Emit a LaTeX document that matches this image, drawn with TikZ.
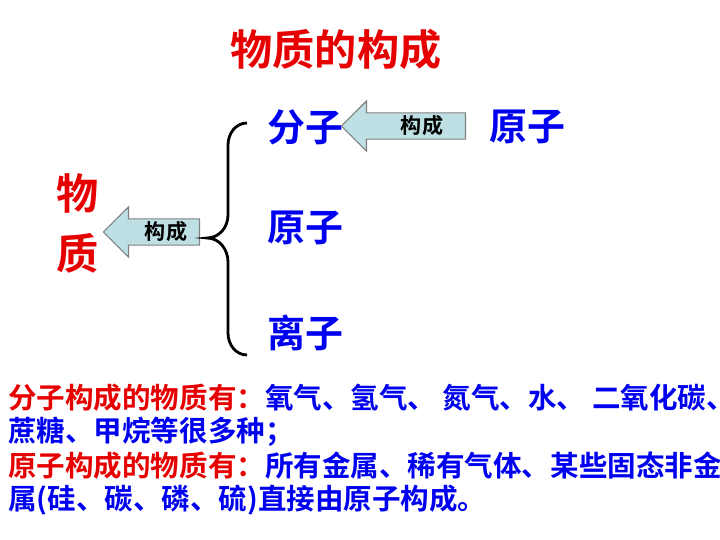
\documentclass[tikz,border=0pt]{standalone}
\usepackage{fontspec}
\newfontfamily\cjk{Noto Sans CJK SC}[BoldFont={Noto Sans CJK SC Bold}]
\usetikzlibrary{shapes.arrows}
\definecolor{tred}{RGB}{230,0,0}
\definecolor{tblue}{RGB}{0,0,240}
\definecolor{arrfill}{RGB}{190,224,228}
\tikzset{
  big/.style={font=\cjk\bfseries\fontsize{27}{30}\selectfont, text=tblue, inner sep=0pt},
  line/.style={anchor=west, inner sep=0pt, font=\cjk\bfseries\fontsize{20.3}{22}\selectfont},
  arr/.style={single arrow, shape border rotate=180, draw=gray, fill=arrfill, thick,
    single arrow head extend=3mm, minimum height=#1, inner sep=0.6mm,
    font=\cjk\bfseries\fontsize{15}{16}\selectfont, text=black},
}
\begin{document}
\begin{tikzpicture}[x=0.25mm,y=-0.25mm]
  \useasboundingbox (0,0) rectangle (720,540);
  \node[font=\cjk\bfseries\fontsize{30}{32}\selectfont, text=tred] (title) at (336,50) {物质的构成};
  \node[big, text=tred, font=\cjk\bfseries\fontsize{30}{32}\selectfont] (wu) at (78,193) {物};
  \node[big, text=tred, font=\cjk\bfseries\fontsize{30}{32}\selectfont] (zhi) at (78,253) {质};
  \node[big] (fenzi) at (305,127) {分子};
  \node[big] (yuanzi) at (305,228) {原子};
  \node[big] (lizi) at (305,333) {离子};
  \node[big] (yuanzi2) at (527,127) {原子};
  \node[arr=31mm] (arrtop) at (410,126) {\hspace{6mm}构成};
  \node[arr=24mm] (arrleft) at (158,232) {\hspace{4mm}构成};
  % brace
  \draw[line width=2pt] (247,123) to[out=180,in=90] (228,145) -- (228,215)
     to[out=-90,in=0] (207,238) to[out=0,in=90] (228,262) -- (228,333)
     to[out=-90,in=180] (247,355);
  \node[line] (l1) at (8,398) {\textcolor{tred}{分子构成的物质有：}\textcolor{tblue}{氧气、氢气、 氮气、水、 二氧化碳、}};
  \node[line, text=tblue] (l2) at (8,432) {蔗糖、甲烷等很多种；};
  \node[line] (l3) at (8,466) {\textcolor{tred}{原子构成的物质有：}\textcolor{tblue}{所有金属、稀有气体、某些固态非金}};
  \node[line, text=tblue] (l4) at (8,500) {属(硅、碳、磷、硫)直接由原子构成。};
\end{tikzpicture}
\end{document}
